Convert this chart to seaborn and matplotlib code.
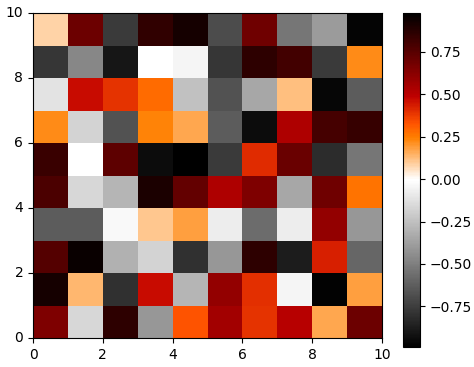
import numpy as np
import matplotlib
matplotlib.use("Agg")
import matplotlib.pyplot as plt
from matplotlib.colors import ListedColormap
import seaborn as sns

# rows listed from top (y=9..10) to bottom (y=0..1)
row_9 = [0.08, 0.70, -0.76, 0.85, 0.92, -0.69, 0.69, -0.53, -0.39, -0.97]
row_8 = [-0.78, -0.47, -0.90, -0.005, -0.05, -0.78, 0.86, 0.81, -0.76, 0.22]
row_7 = [-0.12, 0.47, 0.39, 0.28, -0.25, -0.67, -0.35, 0.12, -0.96, -0.63]
row_6 = [0.22, -0.18, -0.67, 0.24, 0.17, -0.63, -0.94, 0.53, 0.80, 0.84]
row_5 = [0.83, -0.005, 0.74, -0.94, -0.99, -0.76, 0.41, 0.71, -0.82, -0.53]
row_4 = [0.78, -0.16, -0.29, 0.91, 0.72, 0.53, 0.65, -0.35, 0.69, 0.27]
row_3 = [-0.63, -0.63, -0.03, 0.11, 0.18, -0.08, -0.57, -0.08, 0.60, -0.41]
row_2 = [0.76, 0.95, -0.31, -0.18, -0.80, -0.41, 0.86, -0.88, 0.43, -0.59]
row_1 = [0.92, 0.14, -0.80, 0.47, -0.29, 0.60, 0.40, -0.05, -0.98, 0.18]
row_0 = [0.65, -0.16, 0.86, -0.41, 0.33, 0.56, 0.39, 0.51, 0.17, 0.70]

x_tick_labels = ["0", "2", "4", "6", "8", "10"]
y_tick_labels = ["10", "8", "6", "4", "2", "0"]
cbar_ticks = [-0.75, -0.50, -0.25, 0.00, 0.25, 0.50, 0.75]

data = np.array([row_9, row_8, row_7, row_6, row_5, row_4, row_3, row_2, row_1, row_0])

colors = np.vstack([plt.cm.gray(np.linspace(0, 1, 128)),
                    plt.cm.gist_heat_r(np.linspace(0, 1, 128))])
cmap = ListedColormap(colors)

fig = plt.figure(figsize=(4.74, 3.67), dpi=100)
ax = fig.add_axes([33 / 474, 29 / 367, 349 / 474, 325 / 367])
cax = fig.add_axes([403 / 474, 20 / 367, 17 / 474, 334 / 367])

sns.heatmap(data, ax=ax, cbar_ax=cax, cmap=cmap, vmin=-0.99, vmax=0.98,
            cbar_kws={"ticks": cbar_ticks})

ax.set_xticks(np.arange(0, 11, 2))
ax.set_xticklabels(x_tick_labels, rotation=0)
ax.set_yticks(np.arange(0, 11, 2))
ax.set_yticklabels(y_tick_labels, rotation=0)
for s in ax.spines.values():
    s.set_visible(True)
    s.set_linewidth(0.8)
ax.tick_params(labelsize=10)
cax.tick_params(labelsize=10)
cb = ax.collections[0].colorbar
cb.outline.set_visible(True)
cb.outline.set_linewidth(0.8)
cb.ax.set_yticklabels(["\u22120.75", "\u22120.50", "\u22120.25", "0.00", "0.25", "0.50", "0.75"])

fig.savefig("out.png", dpi=100)
